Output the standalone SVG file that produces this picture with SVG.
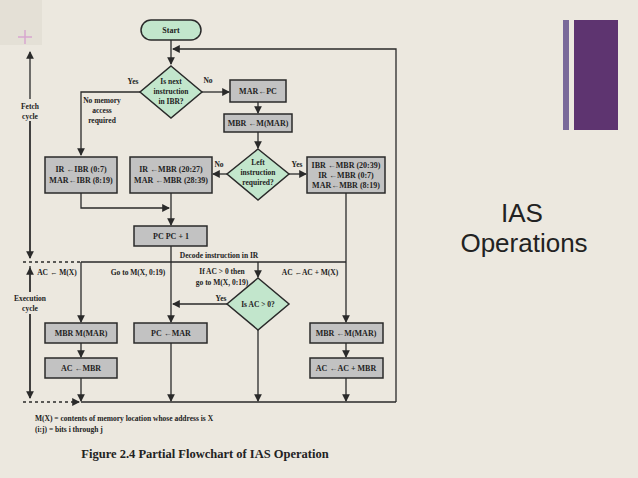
<svg xmlns="http://www.w3.org/2000/svg" width="638" height="478" viewBox="0 0 638 478">
<style>
.b{fill:#c2c2c2;stroke:#2a2a2a;stroke-width:1.5}
.g{fill:#c2e6cc;stroke:#2a2a2a;stroke-width:1.5}
.l{fill:none;stroke:#2a2a2a;stroke-width:1.3}
.d{fill:none;stroke:#2a2a2a;stroke-width:1.3;stroke-dasharray:3,3}
text{font-family:"Liberation Serif",serif;font-weight:bold;font-size:8px;fill:#222;text-anchor:middle}
.s{font-size:7.5px}
</style>
<defs><marker id="a" viewBox="0 0 8 8" refX="7" refY="4" markerWidth="6" markerHeight="6" orient="auto"><path d="M0,0L8,4L0,8z" fill="#2a2a2a"/></marker></defs>
<rect width="638" height="478" fill="#ece8df"/>
<rect width="42" height="45" fill="#e4e0d6"/>
<path d="M25,30V44M18,37H32" stroke="#d7a6cf" stroke-width="1.5"/>
<rect x="563" y="20" width="6" height="110" fill="#7a6a9a"/>
<rect x="574" y="20" width="44" height="110" fill="#5e3470"/>
<text x="522" y="222" style="font-family:'Liberation Sans',sans-serif;font-weight:normal;font-size:26px;fill:#222">IAS</text>
<text x="524" y="252" style="font-family:'Liberation Sans',sans-serif;font-weight:normal;font-size:26px;fill:#222">Operations</text>
<g id="connectors">
<path class="l" d="M171,40V64" marker-end="url(#a)"/>
<path class="l" d="M396,402V49H173" marker-end="url(#a)"/>
<path class="l" d="M140,92H81V155" marker-end="url(#a)"/>
<path class="l" d="M202,92H229" marker-end="url(#a)"/>
<path class="l" d="M258,102V113" marker-end="url(#a)"/>
<path class="l" d="M258,132V148" marker-end="url(#a)"/>
<path class="l" d="M227,174H213" marker-end="url(#a)"/>
<path class="l" d="M289,174H306" marker-end="url(#a)"/>
<path class="l" d="M81,193V208H169" marker-end="url(#a)"/>
<path class="l" d="M171,193V225" marker-end="url(#a)"/>
<path class="l" d="M346,193V322" marker-end="url(#a)"/>
<path class="l" d="M81,262H346"/>
<path class="l" d="M171,246V322" marker-end="url(#a)"/>
<path class="l" d="M81,262V322" marker-end="url(#a)"/>
<path class="l" d="M258,262V277" marker-end="url(#a)"/>
<path class="l" d="M227,304H173" marker-end="url(#a)"/>
<path class="l" d="M81,343V357" marker-end="url(#a)"/>
<path class="l" d="M346,343V357" marker-end="url(#a)"/>
<path class="l" d="M81,378V401" marker-end="url(#a)"/>
<path class="l" d="M171,343V401" marker-end="url(#a)"/>
<path class="l" d="M258,330V401" marker-end="url(#a)"/>
<path class="l" d="M346,378V401" marker-end="url(#a)"/>
<path class="l" d="M81,402H396"/>
<path class="d" d="M23,262H81"/>
<path class="d" d="M23,402H79" marker-end="url(#a)"/>
<path class="l" d="M30,258V52" marker-end="url(#a)"/>
<path class="l" d="M30,100V258" marker-end="url(#a)"/>
<path class="l" d="M30,398V268" marker-end="url(#a)"/>
<path class="l" d="M30,266V398" marker-end="url(#a)"/>
<rect x="20" y="99" width="20" height="22" fill="#ece8df"/>
<rect x="14" y="292" width="34" height="22" fill="#ece8df"/>
</g>
<text x="30" y="109" class="s">Fetch</text><text x="30" y="119" class="s">cycle</text>
<text x="30" y="301" class="s">Execution</text><text x="30" y="311" class="s">cycle</text>
<g id="start"><rect class="g" x="141" y="20" width="60" height="20" rx="10"/><text x="171" y="33">Start</text></g>
<g id="d1"><path class="g" d="M171,66L202,92L171,118L140,92z"/><text x="171" y="84" class="s">Is next</text><text x="171" y="94" class="s">instruction</text><text x="171" y="104" class="s">in IBR?</text></g>
<text x="133" y="84" class="s">Yes</text><text x="208" y="83" class="s">No</text>
<text x="102" y="103" class="s">No memory</text><text x="102" y="113" class="s">access</text><text x="102" y="123" class="s">required</text>
<g id="mar"><rect class="b" x="230" y="80" width="56" height="22"/><text x="258" y="94">MAR←PC</text></g>
<g id="mbr"><rect class="b" x="224" y="114" width="68" height="18"/><text x="258" y="126">MBR ←M(MAR)</text></g>
<g id="d2"><path class="g" d="M258,149L289,174L258,200L227,174z"/><text x="258" y="165" class="s">Left</text><text x="258" y="175" class="s">instruction</text><text x="258" y="185" class="s">required?</text></g>
<text x="219" y="167" class="s">No</text><text x="297" y="167" class="s">Yes</text>
<g id="b1"><rect class="b" x="45" y="157" width="72" height="36"/><text x="81" y="172">IR ←IBR (0:7)</text><text x="81" y="183">MAR←IBR (8:19)</text></g>
<g id="b2"><rect class="b" x="130" y="157" width="82" height="36"/><text x="171" y="172">IR ←MBR (20:27)</text><text x="171" y="183">MAR ←MBR (28:39)</text></g>
<g id="b3"><rect class="b" x="307" y="157" width="78" height="36"/><text x="346" y="168">IBR ←MBR (20:39)</text><text x="346" y="178">IR ←MBR (0:7)</text><text x="346" y="188">MAR←MBR (8:19)</text></g>
<g id="pc"><rect class="b" x="134" y="226" width="73" height="20"/><text x="171" y="239">PC    PC + 1</text></g>
<text x="219" y="258" class="s">Decode instruction in IR</text>
<text x="57" y="275" class="s">AC ← M(X)</text>
<text x="138" y="275" class="s">Go to M(X, 0:19)</text>
<text x="222" y="274" class="s">If AC &gt; 0 then</text><text x="222" y="285" class="s">go to M(X, 0:19)</text>
<text x="310" y="275" class="s">AC ←AC + M(X)</text>
<g id="d3"><path class="g" d="M258,278L289,304L258,330L227,304z"/><text x="258" y="307" class="s">Is AC &gt; 0?</text></g>
<text x="221" y="301" class="s">Yes</text>
<g id="e1"><rect class="b" x="45" y="323" width="72" height="20"/><text x="81" y="336">MBR    M(MAR)</text></g>
<g id="e2"><rect class="b" x="45" y="358" width="72" height="20"/><text x="81" y="371">AC ←MBR</text></g>
<g id="e3"><rect class="b" x="134" y="323" width="73" height="20"/><text x="171" y="336">PC ←MAR</text></g>
<g id="e4"><rect class="b" x="310" y="323" width="73" height="20"/><text x="346" y="336">MBR ←M(MAR)</text></g>
<g id="e5"><rect class="b" x="310" y="358" width="73" height="20"/><text x="346" y="371">AC ←AC + MBR</text></g>
<text x="35" y="421" class="s" style="text-anchor:start">M(X) = contents of memory location whose address is X</text>
<text x="35" y="432" class="s" style="text-anchor:start">(i:j) = bits i through j</text>
<text x="205" y="458" style="font-size:12.5px">Figure 2.4  Partial Flowchart of IAS Operation</text>
</svg>
